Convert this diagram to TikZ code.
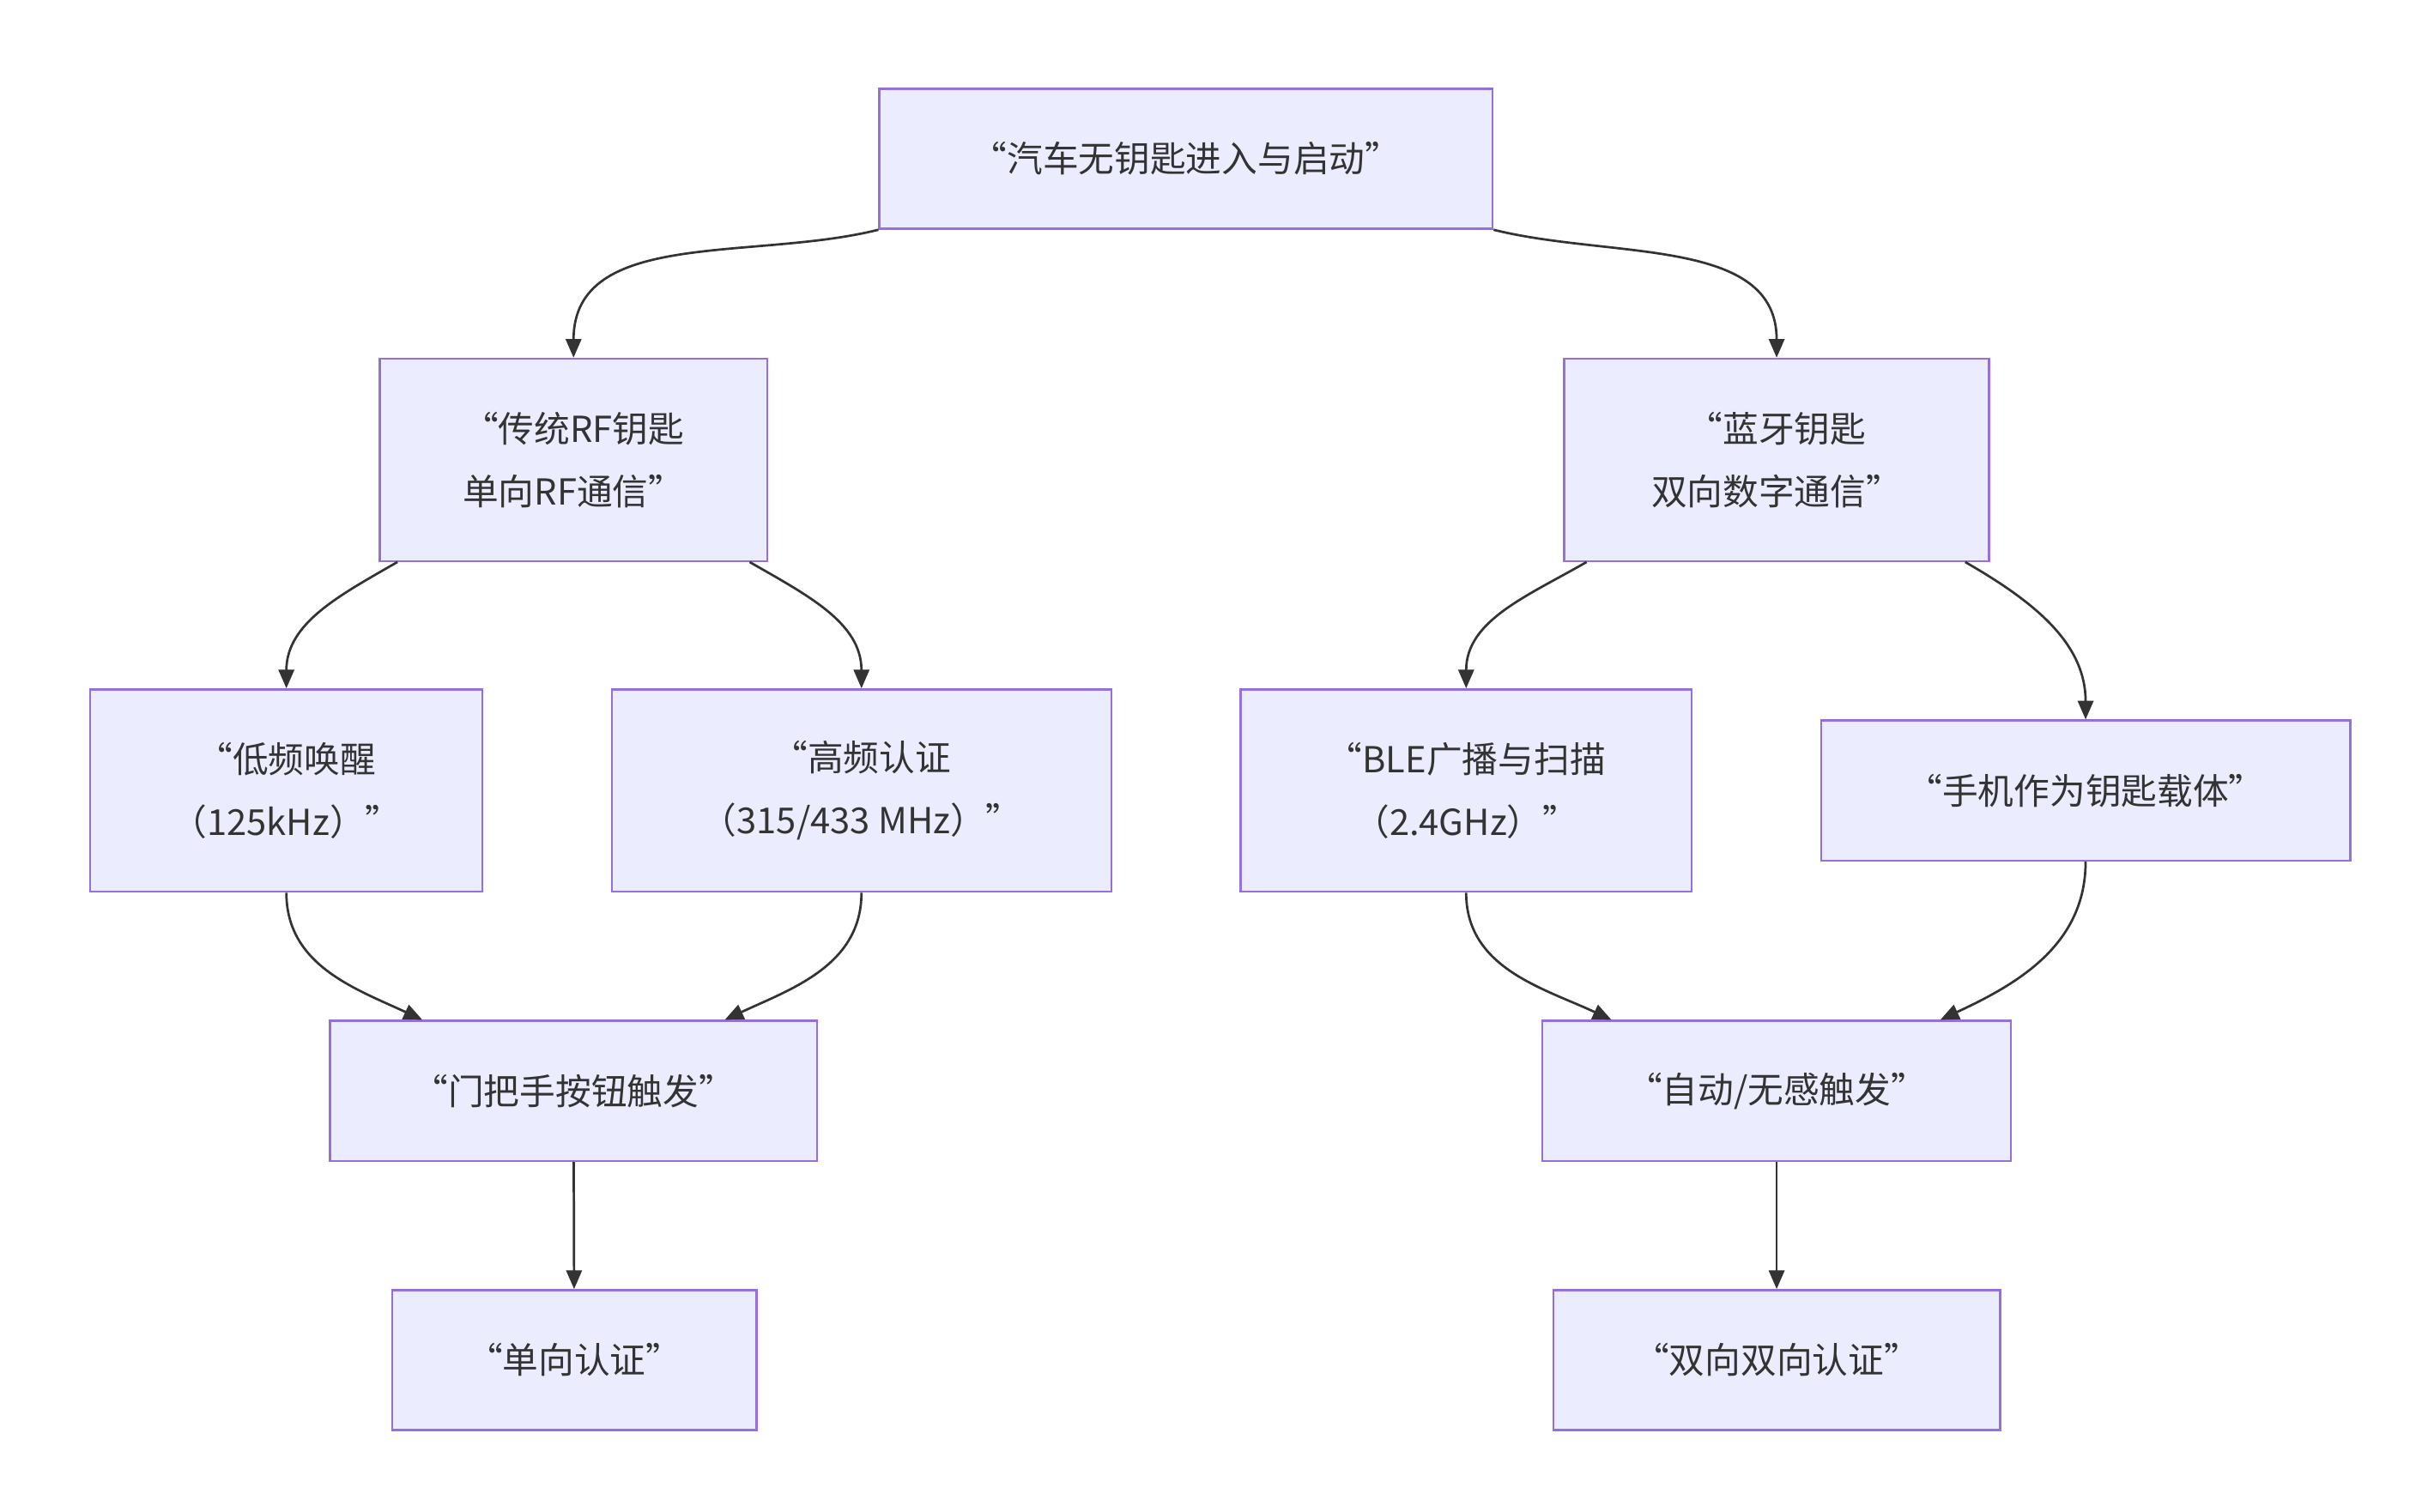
\documentclass[tikz,border=0pt]{standalone}
\usepackage{fontspec}
\setmainfont{Noto Sans CJK SC}
\usetikzlibrary{arrows.meta}
\definecolor{nfill}{HTML}{ECECFF}
\definecolor{nline}{HTML}{9370DB}
\definecolor{eline}{HTML}{333333}
\begin{document}
\begin{tikzpicture}[x=1pt,y=1pt,
  box/.style={draw=nline,fill=nfill,line width=1.3pt,minimum height=90pt,align=center,
    font=\fontsize{23}{40}\selectfont,text=eline,inner sep=0pt},
  tall/.style={minimum height=130pt},
  edge/.style={draw=eline,line width=1.5pt,-{Triangle[length=12pt,width=10pt]}}]
\useasboundingbox (0,0) rectangle (1560,-971.6);
\node[box,minimum width=394pt] (top) at (762,-102) {“汽车无钥匙进入与启动”};
\node[box,tall,minimum width=249pt] (rf) at (368.5,-295.5) {“传统RF钥匙\\单向RF通信”};
\node[box,tall,minimum width=273pt] (bt) at (1141.5,-295.5) {“蓝牙钥匙\\双向数字通信”};
\node[box,tall,minimum width=252pt] (lf) at (184,-508) {“低频唤醒\\（125kHz）”};
\node[box,tall,minimum width=321pt] (hf) at (553.5,-508) {“高频认证\\（315/433 MHz）”};
\node[box,tall,minimum width=290pt] (ble) at (942,-508) {“BLE广播与扫描\\（2.4GHz）”};
\node[box,minimum width=340pt] (ph) at (1340,-508) {“手机作为钥匙载体”};
\node[box,minimum width=313pt] (door) at (368.5,-701) {“门把手按钮触发”};
\node[box,minimum width=301pt] (auto) at (1141.5,-701) {“自动/无感触发”};
\node[box,minimum width=234pt] (one) at (369,-874) {“单向认证”};
\node[box,minimum width=287pt] (two) at (1141.5,-874) {“双向双向认证”};
\draw[edge] (top.south west) to[out=-166,in=90] (rf.north);
\draw[edge] (top.south east) to[out=-14,in=90] (bt.north);
\draw[edge] ([xshift=12pt]rf.south west) to[out=-150,in=90] (lf.north);
\draw[edge] ([xshift=-12pt]rf.south east) to[out=-30,in=90] (hf.north);
\draw[edge] ([xshift=15pt]bt.south west) to[out=-150,in=90] (ble.north);
\draw[edge] ([xshift=-16pt]bt.south east) to[out=-30,in=90] (ph.north);
\draw[edge] (lf.south) to[out=-90,in=155] ([xshift=60pt]door.north west);
\draw[edge] (hf.south) to[out=-90,in=25] ([xshift=-60pt]door.north east);
\draw[edge] (ble.south) to[out=-90,in=155] ([xshift=45pt]auto.north west);
\draw[edge] (ph.south) to[out=-90,in=25] ([xshift=-46pt]auto.north east);
\draw[edge] (door) -- (one);
\draw[edge] (auto) -- (two);
\end{tikzpicture}
\end{document}
